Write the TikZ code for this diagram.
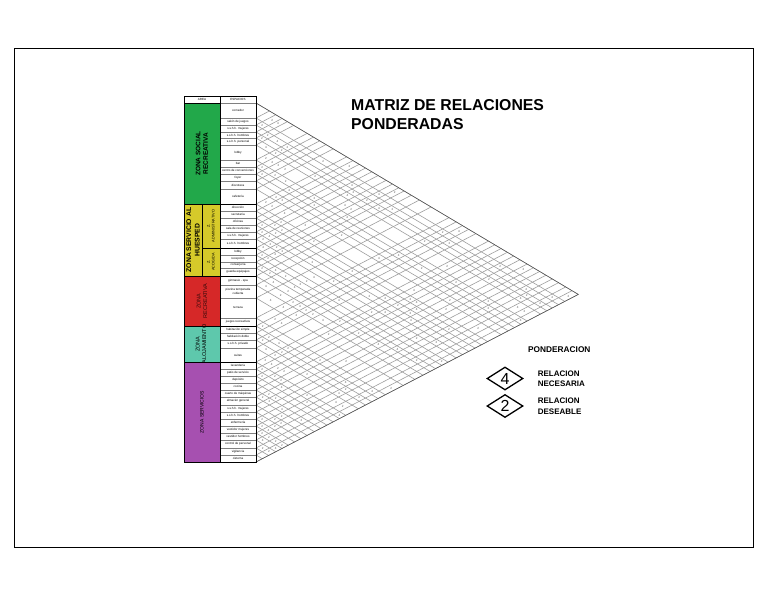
\documentclass[tikz,border=0pt]{standalone}
\usepackage{fontspec}
\setmainfont{Liberation Sans}
\usetikzlibrary{positioning,shapes.geometric}

\definecolor{zsocial}{RGB}{34,168,74}
\definecolor{zhuesped}{RGB}{214,202,42}
\definecolor{zrecrea}{RGB}{214,40,40}
\definecolor{zaloja}{RGB}{94,200,172}
\definecolor{zserv}{RGB}{166,80,176}

\tikzset{
  espacio/.style={font=\fontsize{3}{3.4}\selectfont, align=center, inner sep=0pt},
  zona/.style={rotate=90, align=center, inner sep=0pt, font=\fontsize{6.5}{7.5}\selectfont\bfseries},
  malla/.style={draw=black!38, line width=0.6pt},
  celda/.style={font=\fontsize{3}{3}\selectfont, text=black!65, inner sep=0pt},
  rombo/.style={diamond, draw, line width=1.3pt, inner sep=0pt, minimum width=36pt, minimum height=23pt, font=\fontsize{16}{16}\selectfont},
  leyenda/.style={align=left, inner sep=0pt, font=\fontsize{8}{10.5}\selectfont\bfseries}
}

\def\bnd{{103,118,125,132,138,145,160,167,174,181,189,204,211,218,225,232,239,248,255,262,268,276,285,298,318,326,333,340,348,362,369,376,383,390,397,405,412,419,426,433,440,448,455,462}}

\begin{document}
\begin{tikzpicture}[x=1pt,y=-1pt]
    \useasboundingbox (0,0) rectangle (768,594);
    \draw[line width=0.8pt] (14,48) rectangle (753,547);

    % Malla triangular
    \foreach \k in {0,...,43} {
        \pgfmathsetmacro\y{\bnd[\k]}
        \pgfmathsetmacro\bajo{(462-\y)/1.114}
        \pgfmathsetmacro\alto{(\y-103)/1.114}
        \draw[malla] (256,\y) -- ++(\bajo,0.594*\bajo);
        \draw[malla] (256,\y) -- ++(\alto,-0.52*\alto);
    }
    \draw[line width=0.5pt, black!70] (256,103) -- (578.3,294.4) -- (256,462);

    % Ponderaciones en las celdas
    \foreach \i in {1,...,42} {
        \pgfmathtruncatemacro\js{\i+1}
        \pgfmathtruncatemacro\ia{\i-1}
        \pgfmathsetmacro\ya{\bnd[\ia]}
        \pgfmathsetmacro\yb{\bnd[\i]}
        \pgfmathsetmacro\ci{(\ya+\yb)/2}
        \foreach \j in {\js,...,43} {
            \pgfmathtruncatemacro\h{mod(\i*17+\j*29+\i*\j*7,23)}
            \pgfmathtruncatemacro\muestra{((\j-\i<5) && (\h<13)) || (\h<3) ? 1 : 0}
            \ifnum\muestra=1
                \pgfmathtruncatemacro\ja{\j-1}
                \pgfmathtruncatemacro\v{mod(\h,3)==0 ? 4 : 2}
                \pgfmathsetmacro\yc{\bnd[\ja]}
                \pgfmathsetmacro\yd{\bnd[\j]}
                \pgfmathsetmacro\dx{((\yc+\yd)/2-\ci)/1.114}
                \node[celda] (n\i-\j) at ({256+\dx},{\ci+0.594*\dx}) {\v};
            \fi
        }
    }

    % Espacios
    \draw (184,96) rectangle (220,103);
    \node[espacio] (area) at (202,99.5) {AREA};
    \draw (220,96) rectangle (256,103);
    \node[espacio] (espacios) at (238,99.5) {ESPACIOS};
    \foreach \a/\b/\t [count=\n] in {103/118/comedor, 118/125/salón de juegos, 125/132/s.s.h.h. mujeres,
        132/138/s.s.h.h. hombres, 138/145/s.s.h.h. personal, 145/160/lobby, 160/167/bar,
        167/174/centro de convenciones, 174/181/foyer, 181/189/discoteca, 189/204/cafetería,
        204/211/dirección, 211/218/secretaría, 218/225/oficinas, 225/232/sala de reuniones,
        232/239/s.s.h.h. mujeres, 239/248/s.s.h.h. hombres, 248/255/lobby, 255/262/recepción,
        262/268/conserjería, 268/276/guarda equipajes, 276/285/gimnasio - spa,
        285/298/piscina temperada\\cubierta, 298/318/terraza, 318/326/juegos recreativos,
        326/333/habitación simple, 333/340/habitación doble, 340/348/s.s.h.h. privado,
        348/362/suites, 362/369/lavandería, 369/376/patio de servicio, 376/383/depósito,
        383/390/cocina, 390/397/cuarto de máquinas, 397/405/almacén general,
        405/412/s.s.h.h. mujeres, 412/419/s.s.h.h. hombres, 419/426/enfermería,
        426/433/vestidor mujeres, 433/440/vestidor hombres, 440/448/control de personal,
        448/455/vigilancia, 455/462/cisterna} {
        \draw[black!50, line width=0.3pt] (220,\a) rectangle (256,\b);
        \node[espacio] (esp\n) at (238,{(\a+\b)/2}) {\t};
    }
    \draw[line width=0.8pt] (220,96) rectangle (256,462);
    \foreach \y in {204,248,276,326,362} \draw[line width=0.8pt] (220,\y) -- (256,\y);

    % Zonas
    \draw[fill=zsocial] (184,103) rectangle (220,204);
    \node[zona] (zsocial) at (202,153.5) {ZONA SOCIAL\\RECREATIVA};
    \draw[fill=zhuesped] (184,204) rectangle (202,276);
    \node[zona, font=\fontsize{6.8}{8.5}\selectfont\bfseries] (zhuesped) at (193,240) {ZONA SERVICIO AL\\HUESPED};
    \draw[fill=zhuesped] (202,204) rectangle (220,248);
    \node[zona, font=\fontsize{3.8}{4.6}\selectfont] (zadmin) at (211,226) {Z.\\ADMINISTRATIVO};
    \draw[fill=zhuesped] (202,248) rectangle (220,276);
    \node[zona, font=\fontsize{3.8}{4.6}\selectfont] (zacogida) at (211,262) {Z.\\ACOGIDA};
    \draw[fill=zrecrea] (184,276) rectangle (220,326);
    \node[zona, font=\fontsize{5.5}{6.5}\selectfont, text=black!75!zrecrea] (zrecrea) at (202,301) {ZONA\\RECREATIVA};
    \draw[fill=zaloja] (184,326) rectangle (220,362);
    \node[zona, font=\fontsize{5.5}{6.5}\selectfont] (zaloja) at (201,344) {ZONA\\ALOJAMIENTO};
    \draw[fill=zserv] (184,362) rectangle (220,462);
    \node[zona, font=\fontsize{5}{6}\selectfont] (zserv) at (202,412) {ZONA SERVICIOS};

    % Titulo
    \node[anchor=base west, inner sep=0pt, font=\fontsize{15.8}{19}\selectfont\bfseries] (titulo1) at (351,110) {MATRIZ DE RELACIONES};
    \node[anchor=base west, inner sep=0pt, font=\fontsize{15.8}{19}\selectfont\bfseries] (titulo2) at (351,129.5) {PONDERADAS};

    % Leyenda
    \node[leyenda, anchor=base west, font=\fontsize{8.3}{10}\selectfont\bfseries] (ponderacion) at (528,352) {PONDERACION};
    \node[rombo] (d4) at (505,378.5) {4};
    \node[rombo] (d2) at (505,406) {2};
    \node[leyenda, right=14pt of d4] (necesaria) {RELACION\\NECESARIA};
    \node[leyenda, right=14pt of d2] (deseable) {RELACION\\DESEABLE};
\end{tikzpicture}
\end{document}
